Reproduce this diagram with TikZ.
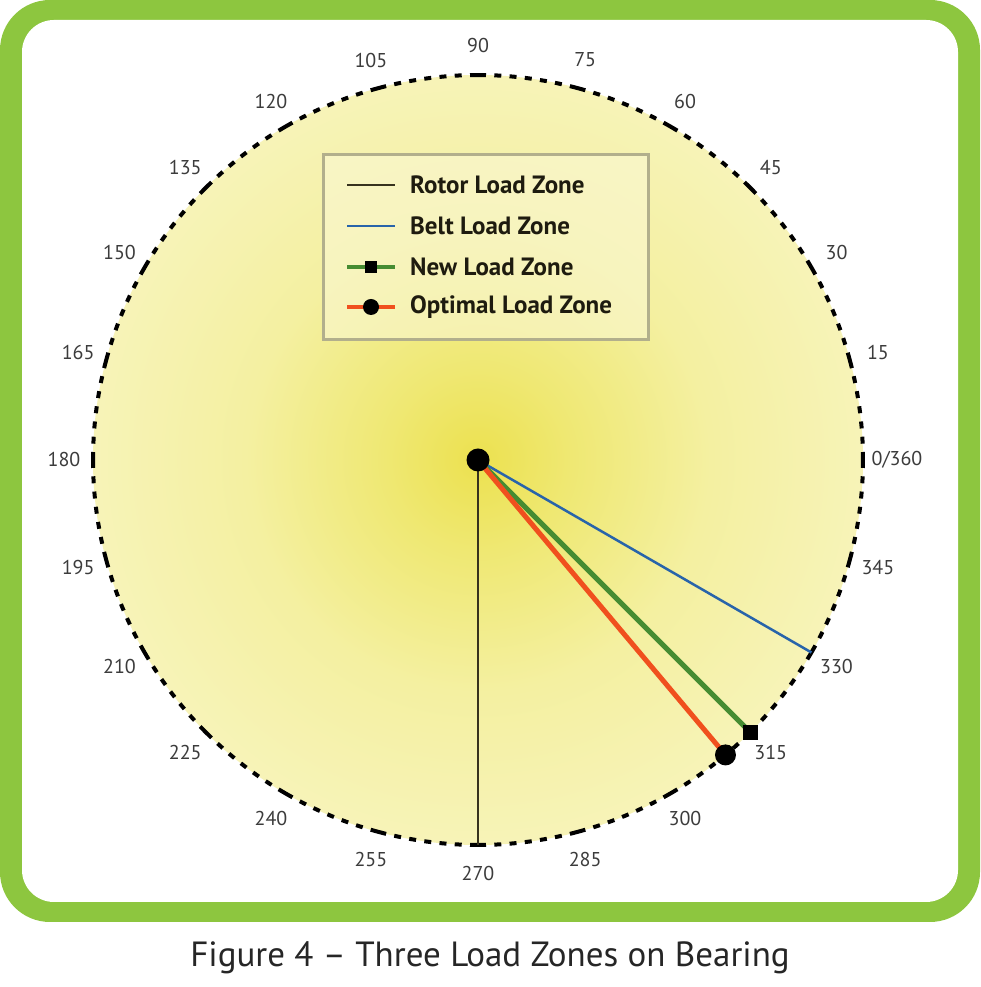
\documentclass[tikz,border=0pt]{standalone}
\usepackage{fontspec}
\setmainfont{PT Sans}
\usetikzlibrary{calc}
\definecolor{framegreen}{RGB}{141,198,63}
\definecolor{rotorcol}{RGB}{55,50,30}
\definecolor{legtextcol}{RGB}{30,27,15}
\definecolor{beltcol}{RGB}{40,100,170}
\definecolor{newcol}{RGB}{70,140,50}
\definecolor{optcol}{RGB}{240,80,30}
\definecolor{labcol}{RGB}{60,60,60}
\definecolor{legborder}{RGB}{178,175,140}
\definecolor{legfill}{RGB}{250,247,210}
\pgfdeclareradialshading{bearing}{\pgfpoint{0bp}{0bp}}{rgb(0bp)=(0.925,0.882,0.31); rgb(6bp)=(0.937,0.91,0.45); rgb(15bp)=(0.957,0.941,0.63); rgb(30bp)=(0.973,0.961,0.765); rgb(50bp)=(0.984,0.976,0.84)}
\tikzset{
  ring/.style={line width=4, line cap=butt, black},
  lab/.style={text=labcol, font=\fontsize{20}{24}\selectfont, inner sep=0pt},
  legtext/.style={anchor=west, inner sep=0pt, text=legtextcol, font=\bfseries\fontsize{25}{29}\selectfont},
  rotorline/.style={rotorcol, line width=2.5},
  beltline/.style={beltcol, line width=2.5},
  newline/.style={newcol, line width=5},
  optline/.style={optcol, line width=5},
  sqmark/.style={fill=black, draw=none, minimum size=#1, inner sep=0pt, shape=rectangle},
  dotmark/.style={fill=black, draw=none, minimum size=#1, inner sep=0pt, shape=circle},
}
\begin{document}
\begin{tikzpicture}[x=1pt,y=1pt]
\useasboundingbox (0,0) rectangle (980,987);
% frame
\fill[framegreen, rounded corners=50] (0,65) rectangle (980,987);
\fill[white, rounded corners=32] (22,85) rectangle (958,967);
% bearing disc
\coordinate (C) at (478,527);
\shade[shading=bearing] (C) circle (385);
% dashed ring with longer dashes at each 15 degrees
\foreach \a in {0,15,...,345}{
  \draw[ring] ([shift={(C)}]\a-1.19:385) arc[start angle=\a-1.19, end angle=\a+1.19, radius=385];
  \foreach \k in {-2,-1,0,1,2}{
    \pgfmathsetmacro\m{\a+7.5+\k*2.2765}
    \draw[ring] ([shift={(C)}]\m-0.52:385) arc[start angle=\m-0.52, end angle=\m+0.52, radius=385];
  }
}
% angle labels
\foreach \a/\t in {15/15,30/30,45/45,60/60,75/75,90/90,105/105,120/120,135/135,150/150,165/165,180/180,195/195,210/210,225/225,240/240,255/255,270/270,285/285,300/300,315/315,330/330,345/345}{
  \node[lab] (lab\a) at ([shift={(C)}]\a:414) {\t};
}
\node[lab] (lab0) at ([shift={(C)}]0:419) {0/360};
% load zones
\coordinate (rotorEnd) at ([shift={(C)}]270:385);
\coordinate (beltEnd) at ([shift={(C)}]330:385);
\coordinate (newEnd) at ([shift={(C)}]315:385);
\coordinate (optEnd) at ([shift={(C)}]310:385);
\draw[rotorline] (C) -- (rotorEnd);
\draw[beltline] (C) -- (beltEnd);
\draw[newline] (C) -- (newEnd);
\draw[optline] (C) -- (optEnd);
\node[sqmark=15] (newMark) at (newEnd) {};
\node[dotmark=21] (optMark) at (optEnd) {};
\node[dotmark=23] (centre) at (C) {};
% legend
\draw[legborder, line width=3, fill=legfill, fill opacity=0.6] (323,832) rectangle (648,647);
\coordinate (l1a) at (347,802); \coordinate (l1b) at (395,802);
\coordinate (l2a) at (347,761); \coordinate (l2b) at (395,761);
\coordinate (l3a) at (347,720); \coordinate (l3b) at (395,720);
\coordinate (l4a) at (347,680); \coordinate (l4b) at (395,680);
\draw[rotorline] (l1a) -- (l1b);
\draw[beltline] (l2a) -- (l2b);
\draw[newcol, line width=4] (l3a) -- (l3b);
\draw[optcol, line width=4] (l4a) -- (l4b);
\node[sqmark=12] (legSq) at ($(l3a)!0.5!(l3b)$) {};
\node[dotmark=16] (legDot) at ($(l4a)!0.5!(l4b)$) {};
\node[legtext] (t1) at (410,802) {Rotor Load Zone};
\node[legtext] (t2) at (410,761) {Belt Load Zone};
\node[legtext] (t3) at (410,720) {New Load Zone};
\node[legtext] (t4) at (410,680) {Optimal Load Zone};
% caption
\node[text=black!85, font=\fontsize{35}{40}\selectfont, inner sep=0pt] (caption) at (490,29) {Figure 4 – Three Load Zones on Bearing};
\end{tikzpicture}
\end{document}
